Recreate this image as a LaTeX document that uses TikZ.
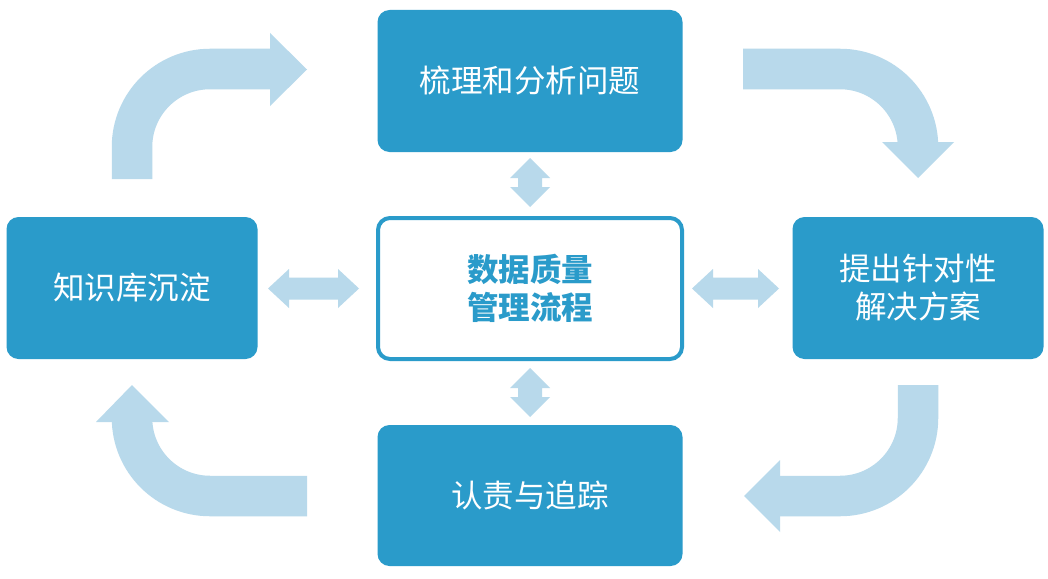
\documentclass[tikz,border=0pt]{standalone}
\usepackage{fontspec}
\newfontfamily\cjk{Noto Sans CJK SC}
\definecolor{boxblue}{HTML}{2A9BCA}
\definecolor{lightblue}{HTML}{B8D9EB}
\begin{document}
\begin{tikzpicture}[x=1pt,y=-1pt,
  box/.style={fill=boxblue,rounded corners=12pt,text=white,align=center,
    font=\cjk\fontsize{31.5}{38}\selectfont,inner sep=0pt},
  centerbox/.style={draw=boxblue,line width=4pt,fill=white,rounded corners=12pt,
    text=boxblue,align=center,font=\cjk\bfseries\fontsize{31.5}{38}\selectfont,
    minimum width=304pt,minimum height=141pt,inner sep=0pt},
  shaft/.style={draw=lightblue,line width=40.5pt},
  head/.style={fill=lightblue}]
\useasboundingbox (0,0) rectangle (1048,578);
\fill[white] (0,0) rectangle (1048,578);
% boxes
\node[box,minimum width=305pt,minimum height=142pt] (top) at (530,81) {梳理和分析问题};
\node[box,minimum width=251pt,minimum height=142pt] (left) at (132,288) {知识库沉淀};
\node[box,minimum width=251pt,minimum height=142pt] (right) at (918,288) {提出针对性\\解决方案};
\node[box,minimum width=305pt,minimum height=141pt] (bottom) at (530,495.5) {认责与追踪};
\node[centerbox] (center) at (530,288.5) {数据质量\\管理流程};
% curved arrows
\draw[shaft] (132,179) -- (132,147) arc[start angle=180,end angle=270,radius=78] -- (272,69);
\fill[head] (270,33) -- (307,69.5) -- (270,106) -- cycle;
\draw[shaft] (743,69) -- (840,69) arc[start angle=270,end angle=360,radius=78] -- (918,144);
\fill[head] (882,142) -- (954,142) -- (918,178) -- cycle;
\draw[shaft] (918,385) -- (918,418) arc[start angle=0,end angle=90,radius=78] -- (778,496);
\fill[head] (780,460) -- (744,496) -- (780,532) -- cycle;
\draw[shaft] (307,496) -- (210,496) arc[start angle=90,end angle=180,radius=78] -- (132,420);
\fill[head] (96,422) -- (169,422) -- (132,385) -- cycle;
% double arrows
\fill[head] (530,158) -- (550,178) -- (542,178) -- (542,187) -- (550,187) -- (530,207)
  -- (510,187) -- (518,187) -- (518,178) -- (510,178) -- cycle;
\fill[head] (530,368) -- (550,388) -- (542,388) -- (542,397) -- (550,397) -- (530,417)
  -- (510,397) -- (518,397) -- (518,388) -- (510,388) -- cycle;
\fill[head] (268,288.5) -- (289,269) -- (289,277.5) -- (338,277.5) -- (338,269) -- (359,288.5)
  -- (338,308) -- (338,299.5) -- (289,299.5) -- (289,308) -- cycle;
\fill[head] (692,288.5) -- (713,269) -- (713,277.5) -- (758,277.5) -- (758,269) -- (779,288.5)
  -- (758,308) -- (758,299.5) -- (713,299.5) -- (713,308) -- cycle;
\end{tikzpicture}
\end{document}
